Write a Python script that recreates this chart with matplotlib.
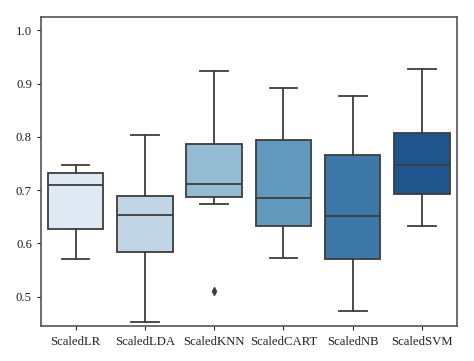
import matplotlib.pyplot as plt
import seaborn as sns

# estimated box stats
modelos = ['ScaledLR', 'ScaledLDA', 'ScaledKNN', 'ScaledCART', 'ScaledNB', 'ScaledSVM']
bigote_inf = [0.570, 0.453, 0.674, 0.572, 0.473, 0.633]
q1 = [0.628, 0.583, 0.688, 0.633, 0.570, 0.692]
mediana = [0.710, 0.654, 0.712, 0.686, 0.652, 0.747]
q3 = [0.733, 0.690, 0.786, 0.794, 0.766, 0.808]
bigote_sup = [0.748, 0.803, 0.924, 0.891, 0.877, 0.927]
atipicos = [[], [], [0.511], [], [], []]

plt.rcParams['font.family'] = ['Liberation Serif', 'DejaVu Serif']

stats = []
for i in range(len(modelos)):
    stats.append({'label': modelos[i], 'whislo': bigote_inf[i], 'q1': q1[i],
                  'med': mediana[i], 'q3': q3[i], 'whishi': bigote_sup[i],
                  'fliers': atipicos[i]})

colores = [sns.desaturate(c, 0.75) for c in sns.color_palette('Blues', 6)]
gris = '#3d3d3d'

fig = plt.figure(figsize=(4.74, 3.61), dpi=100)
ax = fig.add_axes([0.0865, 0.097, 0.877, 0.857])

cajas = ax.bxp(stats, positions=range(len(modelos)), widths=0.8,
               patch_artist=True,
               boxprops=dict(edgecolor=gris, linewidth=1.3),
               medianprops=dict(color=gris, linewidth=1.3),
               whiskerprops=dict(color=gris, linewidth=1.3),
               capprops=dict(color=gris, linewidth=1.3),
               flierprops=dict(marker='d', markerfacecolor=gris,
                               markeredgecolor=gris, markersize=4))
for caja, c in zip(cajas['boxes'], colores):
    caja.set_facecolor(c)

ax.set_xlim(-0.5, 5.5)
ax.set_ylim(0.445, 1.026)
ax.set_yticks([0.5, 0.6, 0.7, 0.8, 0.9, 1.0])
ax.set_yticklabels(['0.5', '0.6', '0.7', '0.8', '0.9', '1.0'])
ax.tick_params(labelsize=9.2, colors='#222222', length=3)
ax.tick_params(axis='x', pad=4.5)
for s in ax.spines.values():
    s.set_color('#555555')
    s.set_linewidth(1.2)

plt.savefig('out.png', dpi=100)
